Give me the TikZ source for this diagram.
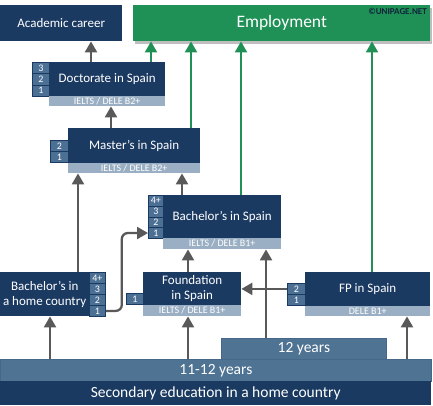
\documentclass[tikz,border=0pt]{standalone}
\usepackage{fontspec}
\setmainfont{Carlito}
\usetikzlibrary{arrows.meta,shadows}
\definecolor{navy}{HTML}{1B3A62}
\definecolor{cellblue}{HTML}{4C6F94}
\definecolor{barblue}{HTML}{9AAFC3}
\definecolor{midblue}{HTML}{4F7393}
\definecolor{empgreen}{HTML}{1F9156}
\definecolor{arrgray}{HTML}{595959}
\tikzset{
  box/.style={fill=navy, text=white, inner sep=0pt, anchor=north west, align=center,
    font=\fontsize{13}{15}\selectfont},
  cellbox/.style={fill=cellblue, draw=navy, line width=0.8pt, text=white, inner sep=0pt,
    anchor=north west, font=\fontsize{10}{10}\selectfont},
  labelbar/.style={fill=barblue, text=white, inner sep=0pt, anchor=north west,
    font=\fontsize{10}{10}\selectfont},
  midbar/.style={fill=midblue, draw=midblue!80!navy, line width=0.8pt, text=white, inner sep=0pt,
    anchor=north west, font=\fontsize{15.5}{17}\selectfont},
  garrow/.style={draw=arrgray, line width=2.3pt, -{Triangle[width=12pt,length=11pt]}},
  grarrow/.style={draw=empgreen, line width=2pt, -{Triangle[width=12pt,length=11pt]}},
}
\begin{document}
\begin{tikzpicture}[x=1pt,y=-1pt]
\useasboundingbox (0,0) rectangle (433,405);

% top row
\node[box, minimum width=122, minimum height=36] (acad) at (0,5) {Academic career};
\node[box, fill=empgreen, minimum width=297, minimum height=36,
  font=\fontsize{17.5}{20}\selectfont,
  drop shadow={shadow xshift=1.5pt, shadow yshift=-2.5pt, fill=black!25, opacity=1}]
  (emp) at (133,5) {Employment};
\node[font=\bfseries\fontsize{9}{10}\selectfont, text=navy!60!black, anchor=north east, inner sep=0pt]
  (copy) at (427,8) {©UNIPAGE.NET};

% Doctorate
\node[box, minimum width=116, minimum height=34] (doc) at (49,62) {Doctorate in Spain};
\node[cellbox, minimum width=17, minimum height=11.33] (d3) at (32,62) {3};
\node[cellbox, minimum width=17, minimum height=11.33] (d2) at (32,73.33) {2};
\node[cellbox, minimum width=17, minimum height=11.33] (d1) at (32,84.67) {1};
\node[labelbar, minimum width=116, minimum height=10] (docbar) at (49,96) {IELTS / DELE B2+};

% Master's
\node[box, minimum width=132, minimum height=35] (mas) at (68,128) {Master's in Spain};
\node[cellbox, minimum width=18, minimum height=11] (m2) at (50,140) {2};
\node[cellbox, minimum width=18, minimum height=11] (m1) at (50,151) {1};
\node[labelbar, minimum width=132, minimum height=10] (masbar) at (68,163) {IELTS / DELE B2+};

% Bachelor's in Spain
\node[box, minimum width=118, minimum height=43] (bsp) at (163,195) {Bachelor's in Spain};
\node[cellbox, minimum width=15, minimum height=10.75] (bs4) at (148,195) {4+};
\node[cellbox, minimum width=15, minimum height=10.75] (bs3) at (148,205.75) {3};
\node[cellbox, minimum width=15, minimum height=10.75] (bs2) at (148,216.5) {2};
\node[cellbox, minimum width=15, minimum height=10.75] (bs1) at (148,227.25) {1};
\node[labelbar, minimum width=118, minimum height=11] (bspbar) at (163,238) {IELTS / DELE B1+};

% Bachelor's in a home country
\node[box, minimum width=89, minimum height=44] (bhome) at (0,272) {Bachelor's in\\a home country};
\node[cellbox, minimum width=16, minimum height=11] (bh4) at (89,272) {4+};
\node[cellbox, minimum width=16, minimum height=11] (bh3) at (89,283) {3};
\node[cellbox, minimum width=16, minimum height=11] (bh2) at (89,294) {2};
\node[cellbox, minimum width=16, minimum height=11] (bh1) at (89,305) {1};

% Foundation
\node[box, minimum width=98, minimum height=33] (fnd) at (143,272) {Foundation\\in Spain};
\node[labelbar, minimum width=98, minimum height=11] (fndbar) at (143,305) {IELTS / DELE B1+};
\node[cellbox, minimum width=17, minimum height=11] (f1) at (126,293) {1};

% FP
\node[box, minimum width=125, minimum height=34] (fp) at (305,272) {FP in Spain};
\node[labelbar, minimum width=125, minimum height=10] (fpbar) at (305,306) {DELE B1+};
\node[cellbox, minimum width=18, minimum height=11] (fp2) at (287,283) {2};
\node[cellbox, minimum width=18, minimum height=11] (fp1) at (287,294) {1};

% bottom
\node[midbar, minimum width=165, minimum height=21] (y12) at (221,338) {12 years};
\node[midbar, minimum width=431, minimum height=22] (y1112) at (0,359) {11-12 years};
\node[box, minimum width=431, minimum height=24, font=\fontsize{15.5}{17}\selectfont] (sec) at (0,381)
  {Secondary education in a home country};

% arrows
\draw[garrow] ([xshift=42]doc.north west) -- ([xshift=91]acad.south west);
\draw[grarrow] ([xshift=102]doc.north west) -- ([xshift=18]emp.south west);
\draw[garrow] ([xshift=43]mas.north west) -- ([xshift=62]docbar.south west);
\draw[grarrow] ([xshift=123]mas.north west) -- ([xshift=58]emp.south west);
\draw[garrow] ([xshift=78]bhome.north west) -- ([xshift=10]masbar.south west);
\draw[garrow] ([xshift=19]bsp.north west) -- ([xshift=114]masbar.south west);
\draw[grarrow] ([xshift=78]bsp.north west) -- ([xshift=108]emp.south west);
\draw[grarrow] ([xshift=67]fp.north west) -- ([xshift=239]emp.south west);
\draw[garrow, rounded corners=6pt] (bh1.east) -- ([xshift=16]bh1.east) |- (bs1.west);
\draw[garrow] ([xshift=45]fnd.north west) -- ([xshift=25]bspbar.south west);
\draw[garrow] ([xshift=45]y12.north west) -- ([xshift=103]bspbar.south west);
\draw[garrow] (fp2.west) -- (fp2.west -| fnd.east);
\draw[garrow] ([xshift=50]y1112.north west) -- ([xshift=50]bhome.south west);
\draw[garrow] ([xshift=188]y1112.north west) -- ([xshift=45]fndbar.south west);
\draw[garrow] ([xshift=407]y1112.north west) -- ([xshift=102]fpbar.south west);
\end{tikzpicture}
\end{document}
